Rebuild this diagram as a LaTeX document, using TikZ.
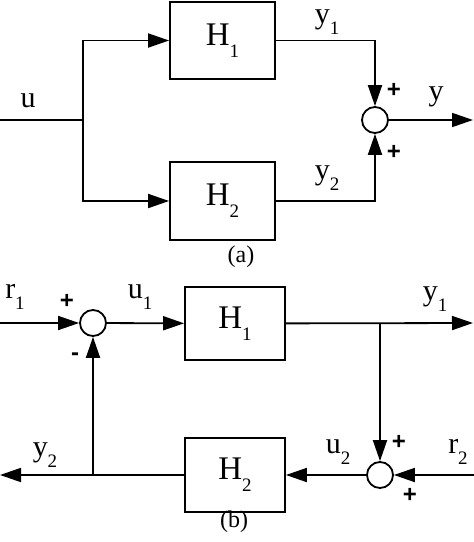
\documentclass[tikz,border=0pt]{standalone}
\usepackage{fontspec}
\setmainfont{Liberation Serif}
\newfontfamily\plusfont{Liberation Sans}
\usetikzlibrary{arrows.meta}
\newcommand{\lbl}[2]{#1\raisebox{-0.36em}{\fontsize{19}{19}\selectfont #2}}
\begin{document}
\begin{tikzpicture}[x=1pt,y=-1pt,
  line width=1.8pt,
  sig/.style={-{Triangle[length=21pt,width=14pt]}},
  blk/.style={draw,rectangle,inner sep=0pt,font=\fontsize{33}{33}\selectfont},
  sumnode/.style={draw,circle,minimum size=26pt,inner sep=0pt},
  lab/.style={font=\fontsize{30}{30}\selectfont,inner sep=0pt},
  pm/.style={font=\plusfont\bfseries\fontsize{24}{24}\selectfont,inner sep=0pt},
  captxt/.style={font=\fontsize{24}{24}\selectfont,inner sep=0pt}]
\useasboundingbox (0,0) rectangle (474,542);
% ---------- (a) ----------
\node[blk,minimum width=105pt,minimum height=77pt] (H1a) at (222.5,40.5) {\lbl{H}{1}};
\node[blk,minimum width=105pt,minimum height=78pt] (H2a) at (222.5,201) {\lbl{H}{2}};
\node[sumnode] (sa) at (375,120) {};
\coordinate (ua) at (0,120);
\coordinate (ja) at (83,120);
\coordinate (ya) at (473,120);
\draw (ua) -- (ja);
\draw[sig] (ja) |- (H1a);
\draw[sig] (ja) |- (H2a);
\draw[sig] (H1a) -| (sa);
\draw[sig] (H2a) -| (sa);
\draw[sig] (sa) -- (ya);
\node[lab] (lu) at (28,101) {u};
\node[lab] (ly1a) at (327,22) {\lbl{y}{1}};
\node[lab] (ly2a) at (327,178) {\lbl{y}{2}};
\node[lab] (lya) at (436,97) {y};
\node[pm] (p1a) at (394,90) {+};
\node[pm] (p2a) at (394,152) {+};
\node[captxt] (capa) at (241,257) {(a)};
% ---------- (b) ----------
\node[sumnode] (s1) at (93,323) {};
\node[blk,minimum width=100pt,minimum height=73pt] (H1b) at (235,323.5) {\lbl{H}{1}};
\node[blk,minimum width=100pt,minimum height=74pt] (H2b) at (235,475) {\lbl{H}{2}};
\node[sumnode] (s2) at (380,475) {};
\coordinate (r1) at (0,323);
\coordinate (y1e) at (473,323);
\coordinate (j1) at (380,323);
\coordinate (r2) at (474,475);
\coordinate (y2e) at (0,475);
\coordinate (j2) at (93,475);
\draw[sig] (r1) -- (s1);
\draw[sig] (s1) -- (H1b);
\draw[sig] (H1b) -- (y1e);
\draw[sig] (j1) -- (s2);
\draw[sig] (r2) -- (s2);
\draw[sig] (s2) -- (H2b);
\draw[sig] (H2b) -- (y2e);
\draw[sig] (j2) -- (s1);
\node[lab] (lr1) at (15,297) {\lbl{r}{1}};
\node[lab] (lu1) at (140,297) {\lbl{u}{1}};
\node[lab] (ly1b) at (435,299) {\lbl{y}{1}};
\node[lab] (lu2) at (338,452) {\lbl{u}{2}};
\node[lab] (lr2) at (458,452) {\lbl{r}{2}};
\node[lab] (ly2b) at (45,455) {\lbl{y}{2}};
\node[pm] (p1b) at (67,301) {+};
\node[pm] (m1b) at (75,357) {-};
\node[pm] (p2b) at (399,442) {+};
\node[pm] (p3b) at (410,495) {+};
\node[captxt] (capb) at (234,522) {(b)};
\end{tikzpicture}
\end{document}
